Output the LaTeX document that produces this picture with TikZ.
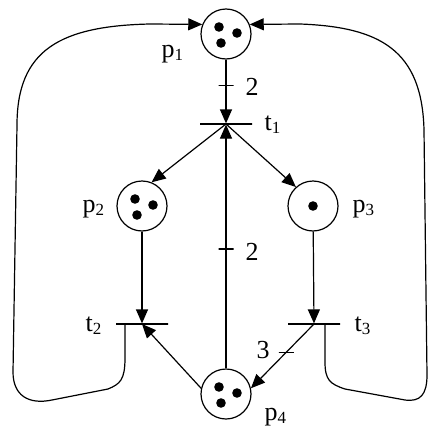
\documentclass[tikz,border=0pt]{standalone}
\usepackage{fontspec}
\setmainfont{Liberation Serif}
\usetikzlibrary{arrows.meta}

\begin{document}
\begin{tikzpicture}[x=1pt, y=-1pt, line width=1.2pt,
  >={Triangle[length=14pt,width=12pt]},
  place/.style={draw, circle, minimum size=50pt, inner sep=0pt},
  trans/.style={draw, rectangle, minimum width=52pt, minimum height=0pt, inner sep=0pt},
  wtick/.style={draw, rectangle, minimum width=15pt, minimum height=0pt, inner sep=0pt},
  lbl/.style={anchor=base west, inner sep=0pt, font=\fontsize{26}{30}\selectfont}]
\def \tok {4.8pt}
\def \sub #1{\raisebox{-3pt}{\fontsize{17}{20}\selectfont #1}}

\useasboundingbox (0,0) rectangle (439,439);

% places
\node[place] at (226,34) (p1) {};
\node[place] at (142,206) (p2) {};
\node[place] at (313,206) (p3) {};
\node[place] at (226,394) (p4) {};

% tokens
\foreach \pl in {p1,p2,p4}
  \foreach \dx/\dy in {-7/-7, 11/-1, -5/9}
    \fill ([shift={(\dx,\dy)}]\pl.center) circle [radius=\tok];
\fill (p3.center) circle [radius=\tok];

% transitions
\node[trans] at (226,124) (t1) {};
\node[trans] at (142,324) (t2) {};
\node[trans] at (314,324) (t3) {};

% labels
\node[lbl] at (161,57) (lp1) {p\sub{1}};
\node[lbl] at (264,130) (lt1) {t\sub{1}};
\node[lbl] at (82,212) (lp2) {p\sub{2}};
\node[lbl] at (352,212) (lp3) {p\sub{3}};
\node[lbl] at (85,331) (lt2) {t\sub{2}};
\node[lbl] at (354,331) (lt3) {t\sub{3}};
\node[lbl] at (264,420) (lp4) {p\sub{4}};

% arcs
\path[->] (p1) edge node[wtick, pos=.4] (w1) {} (t1);
\path[->] (p4) edge node[wtick, pos=.49] (w2) {} (t1);
\path[->] (t1.center) edge (p2.68);
\path[->] (t1.center) edge (p3.132);
\path[->] (p2) edge (t2);
\path[->] (p3) edge (t3);
\path[->] (p4.167) edge (t2.center);
\path[->] (t3.center) edge node[wtick, pos=.44] (w3) {} (p4.13);

% weights
\node[lbl] at (245,95) (lw1) {2};
\node[lbl] at (245,260) (lw2) {2};
\node[lbl] at (256,358) (lw3) {3};

% loops back to p1
\draw[->] ([xshift=-17pt]t2.center) -- (125,358)
  .. controls (125,380) and (120,384) .. (108,389) -- (52,400)
  .. controls (28,405) and (13,395) .. (13,372) -- (17,125)
  .. controls (17,50) and (60,26) .. (150,24) -- (p1.158);
\draw[->] ([xshift=11pt]t3.center) -- (325,362)
  .. controls (325,380) and (330,384) .. (345,389) -- (405,400)
  .. controls (420,402) and (427,395) .. (427,375) -- (424,130)
  .. controls (422,50) and (380,27) .. (300,24) -- (p1.22);

\end{tikzpicture}
\end{document}
